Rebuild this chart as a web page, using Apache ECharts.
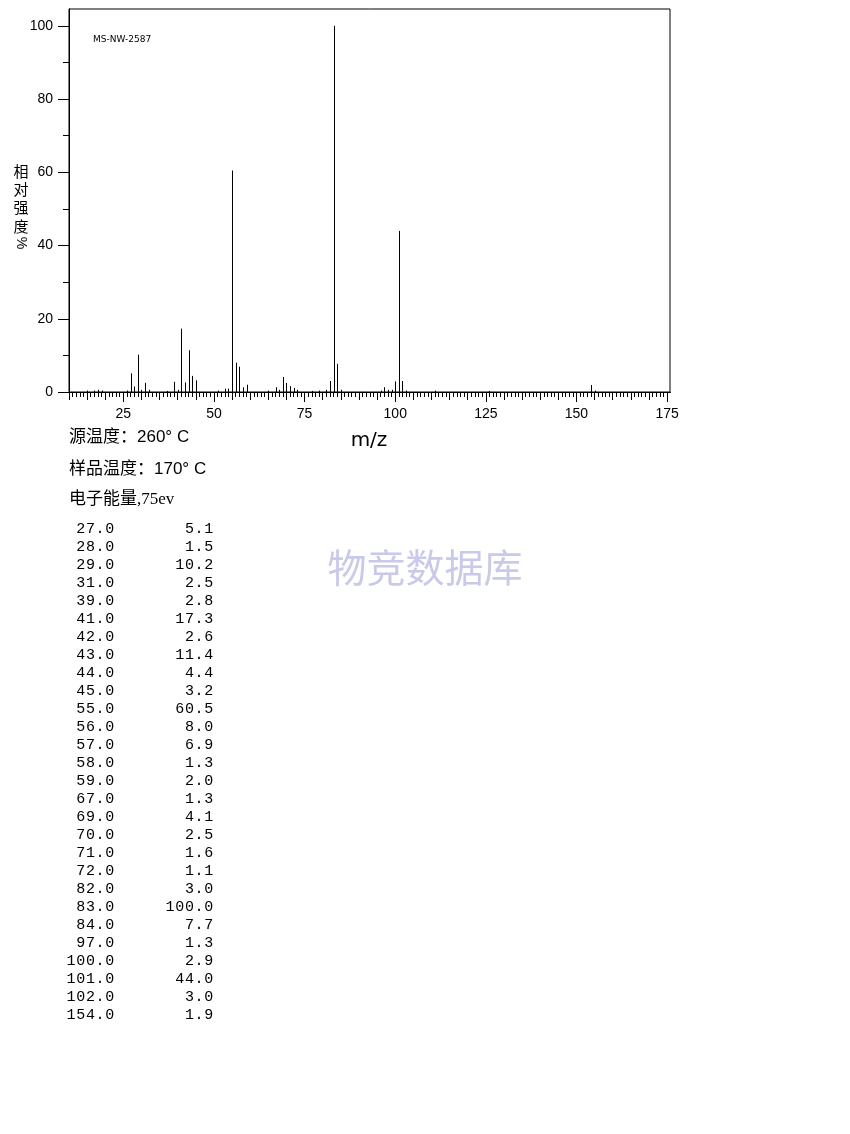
<!DOCTYPE html>
<html>
<head>
<meta charset="utf-8">
<script src="https://cdn.jsdelivr.net/npm/echarts@6/dist/echarts.min.js"></script>
<style>
html,body{margin:0;padding:0;background:#fff;}
#wrap{position:relative;width:850px;height:1134px;}
#chart{position:absolute;left:0;top:0;width:850px;height:1134px;}
.row{position:absolute;height:18px;line-height:18px;font-family:"Liberation Mono",monospace;font-size:15px;letter-spacing:0.7px;color:#000;text-align:right;white-space:pre;}
</style>
</head>
<body>
<div id="wrap">
<div id="chart"></div>
<div id="table"></div>
</div>
<script>
// Peaks listed in the table (m/z, relative intensity %)
const listedMz  = [27, 28, 29, 31, 39, 41, 42, 43, 44, 45, 55, 56, 57, 58, 59, 67, 69, 70, 71, 72, 82, 83, 84, 97, 100, 101, 102, 154];
const listedInt = [5.1, 1.5, 10.2, 2.5, 2.8, 17.3, 2.6, 11.4, 4.4, 3.2, 60.5, 8.0, 6.9, 1.3, 2.0, 1.3, 4.1, 2.5, 1.6, 1.1, 3.0, 100.0, 7.7, 1.3, 2.9, 44.0, 3.0, 1.9];
// Small peaks seen only in the plot (estimated)
const minorMz  = [15, 17, 18, 19, 26, 30, 32, 37, 40, 51, 53, 54, 65, 68, 73, 77, 79, 81, 85, 96, 98, 99, 103, 111, 126, 155];
const minorInt = [0.4, 0.4, 0.6, 0.4, 0.4, 0.6, 0.6, 0.3, 0.6, 0.4, 0.9, 0.9, 0.4, 0.6, 0.6, 0.3, 0.4, 0.6, 0.6, 0.4, 0.6, 0.6, 0.4, 0.4, 0.3, 0.4];
// Axis ticks / labels
const xLabelTicks = [25, 50, 75, 100, 125, 150, 175];
const yLabelTicks = [0, 20, 40, 60, 80, 100];
const yMinorTicks = [10, 30, 50, 70, 90];
const sampleId = 'MS-NW-2587';
const infoLines = ['源温度：260° C', '样品温度：170° C', '电子能量,75ev'];
const watermark = '物竞数据库';

const X_MIN = 10, X_MAX = 175.8, Y_MIN = 0, Y_MAX = 104.6;

const peaks = [];
listedMz.forEach((m, i) => peaks.push([m, listedInt[i]]));
minorMz.forEach((m, i) => peaks.push([m, minorInt[i]]));
peaks.sort((a, b) => a[0] - b[0]);

const fiveTicks = [], unitTicks = [];
for (let v = 10; v <= 175; v++) { unitTicks.push(v); if (v % 5 === 0) fiveTicks.push(v); }

const baseX = {
  type: 'value', min: X_MIN, max: X_MAX, position: 'bottom', offset: 0,
  splitLine: { show: false },
  axisLine: { show: true, lineStyle: { color: '#000', width: 1 } }
};
const baseY = {
  type: 'value', min: Y_MIN, max: Y_MAX, position: 'left', offset: 0,
  splitLine: { show: false },
  axisLine: { show: true, lineStyle: { color: '#000', width: 1 } }
};

const chart = echarts.init(document.getElementById('chart'), null, { renderer: 'canvas' });
chart.setOption({
  animation: false,
  backgroundColor: '#fff',
  grid: { left: 69, top: 9, right: 180, bottom: 742, show: true, borderColor: '#000', borderWidth: 1, backgroundColor: 'transparent' },
  xAxis: [
    Object.assign({}, baseX, {
      axisTick: { show: true, length: 10, customValues: xLabelTicks, lineStyle: { color: '#000' } },
      axisLabel: { show: true, customValues: xLabelTicks, margin: 15, color: '#000', fontSize: 14, fontFamily: 'Liberation Sans' }
    }),
    Object.assign({}, baseX, {
      axisTick: { show: true, length: 8, customValues: fiveTicks, lineStyle: { color: '#000' } },
      axisLabel: { show: false }
    }),
    Object.assign({}, baseX, {
      axisTick: { show: true, length: 5, customValues: unitTicks, lineStyle: { color: '#000' } },
      axisLabel: { show: false }
    })
  ],
  yAxis: [
    Object.assign({}, baseY, {
      axisTick: { show: true, length: 11, customValues: yLabelTicks, lineStyle: { color: '#000' } },
      axisLabel: { show: true, customValues: yLabelTicks, margin: 16, color: '#000', fontSize: 14, fontFamily: 'Liberation Sans' }
    }),
    Object.assign({}, baseY, {
      axisTick: { show: true, length: 6, customValues: yMinorTicks, lineStyle: { color: '#000' } },
      axisLabel: { show: false }
    })
  ],
  series: [{
    type: 'custom',
    xAxisIndex: 0, yAxisIndex: 0,
    data: peaks,
    renderItem: function (params, api) {
      const x = api.value(0), y = api.value(1);
      const p0 = api.coord([x, 0]);
      const p1 = api.coord([x, y]);
      const px = Math.round(p0[0]) + 0.5;
      return { type: 'line', shape: { x1: px, y1: p0[1], x2: px, y2: p1[1] }, style: { stroke: '#000', lineWidth: 1 } };
    }
  }],
  graphic: [
    { type: 'text', left: 93, top: 35, style: { text: sampleId, font: '9px "DejaVu Sans"', fill: '#000' } },
    { type: 'text', x: 21, y: 171, style: { text: '相', font: '15px "Noto Sans CJK SC"', fill: '#000', align: 'center', verticalAlign: 'middle' } },
    { type: 'text', x: 21, y: 189, style: { text: '对', font: '15px "Noto Sans CJK SC"', fill: '#000', align: 'center', verticalAlign: 'middle' } },
    { type: 'text', x: 21, y: 207, style: { text: '强', font: '15px "Noto Sans CJK SC"', fill: '#000', align: 'center', verticalAlign: 'middle' } },
    { type: 'text', x: 21, y: 226, style: { text: '度', font: '15px "Noto Sans CJK SC"', fill: '#000', align: 'center', verticalAlign: 'middle' } },
    { type: 'text', x: 21, y: 243, rotation: -Math.PI / 2, style: { text: '%', font: '14px "Liberation Sans"', fill: '#000', align: 'center', verticalAlign: 'middle' } },
    { type: 'text', x: 369, y: 441, style: { text: 'm/z', font: '20px "DejaVu Sans"', fill: '#000', align: 'center', verticalAlign: 'middle' } },
    { type: 'text', x: 69, y: 437, style: { text: infoLines[0], font: '17px "Liberation Sans", "Noto Sans CJK SC"', fill: '#000', align: 'left', verticalAlign: 'middle' } },
    { type: 'text', x: 69, y: 469, style: { text: infoLines[1], font: '17px "Liberation Sans", "Noto Sans CJK SC"', fill: '#000', align: 'left', verticalAlign: 'middle' } },
    { type: 'text', x: 69, y: 500, style: { text: infoLines[2], font: '17px "Liberation Serif", "Noto Sans CJK SC"', fill: '#000', align: 'left', verticalAlign: 'middle' } },
    { type: 'text', x: 425, y: 567, style: { text: watermark, font: '39px "Noto Sans CJK SC"', fill: '#c9c9ea', align: 'center', verticalAlign: 'middle' } }
  ]
});

// Peak table
const table = document.getElementById('table');
listedMz.forEach((m, i) => {
  const top = 529 + 18 * i - 8;
  const a = document.createElement('div');
  a.className = 'row';
  a.style.top = top + 'px';
  a.style.left = '40px';
  a.style.width = '75px';
  a.textContent = m.toFixed(1);
  table.appendChild(a);
  const b = document.createElement('div');
  b.className = 'row';
  b.style.top = top + 'px';
  b.style.left = '130px';
  b.style.width = '84px';
  b.textContent = listedInt[i].toFixed(1);
  table.appendChild(b);
});
</script>
</body>
</html>
